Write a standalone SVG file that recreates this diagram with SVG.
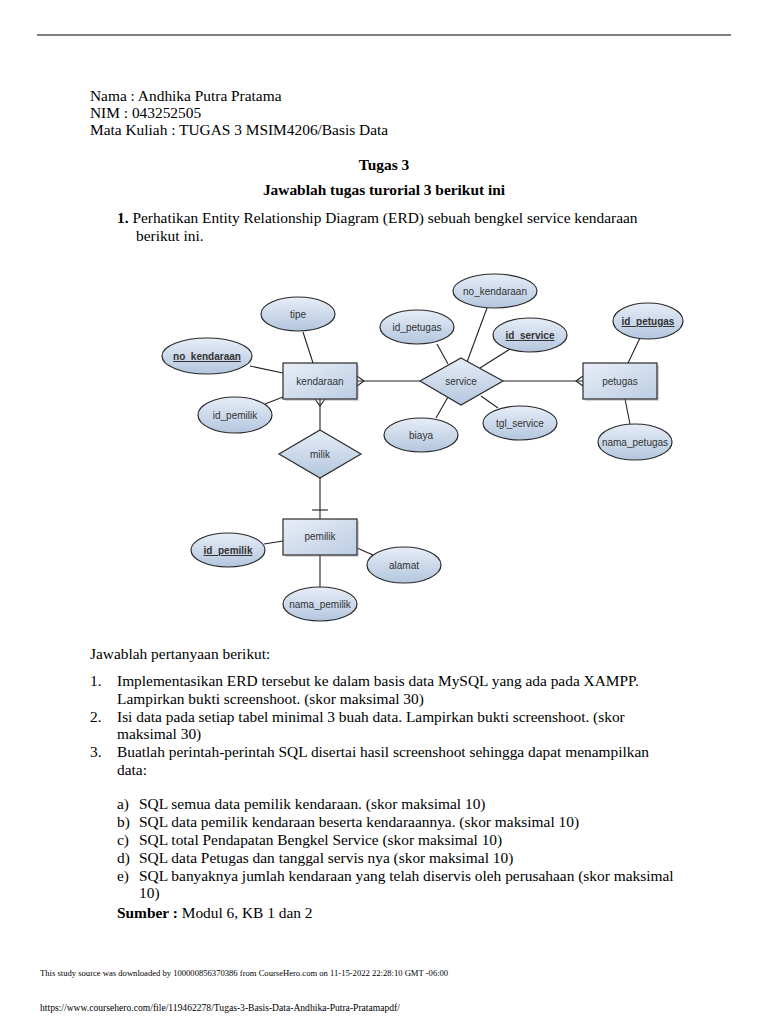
<svg xmlns="http://www.w3.org/2000/svg" width="768" height="1024" viewBox="0 0 768 1024">
<style>
.t{font-family:"Liberation Serif","Times New Roman",serif;font-size:15.4px;fill:#000}
.b{font-weight:bold}
.f{font-family:"Liberation Serif","Times New Roman",serif;font-size:8.6px;fill:#000}
.u{font-family:"Liberation Serif","Times New Roman",serif;font-size:9.6px;fill:#000}
.el{fill:url(#g);stroke:#2a2a2a;stroke-width:1.2}
.en{fill:url(#g2);stroke:#2a2a2a;stroke-width:1.2}
.dm{fill:url(#g);stroke:#2a2a2a;stroke-width:1.2}
.lb{font-family:"Liberation Sans",Arial,sans-serif;font-size:10px;fill:#333;text-anchor:middle}
.pk{font-weight:bold;text-decoration:underline}
.cn line,.cn polyline{stroke:#222;stroke-width:1.1;fill:none}
</style>
<defs>
<linearGradient id="g" x1="0" y1="0" x2="0" y2="1">
<stop offset="0" stop-color="#e6edf7"/><stop offset="1" stop-color="#b4c6de"/>
</linearGradient>
<linearGradient id="g2" x1="0" y1="0" x2="1" y2="1">
<stop offset="0" stop-color="#e8eef7"/><stop offset="1" stop-color="#bccde3"/>
</linearGradient>
</defs>
<rect width="768" height="1024" fill="#fff"/>
<line x1="37" y1="35" x2="731" y2="35" stroke="#000" stroke-width="1"/>

<text class="t" x="90" y="101">Nama : Andhika Putra Pratama</text>
<text class="t" x="90" y="118">NIM : 043252505</text>
<text class="t" x="90" y="135">Mata Kuliah : TUGAS 3 MSIM4206/Basis Data</text>
<text class="t b" x="384" y="170" text-anchor="middle">Tugas 3</text>
<text class="t b" x="384" y="195" text-anchor="middle">Jawablah tugas turorial 3 berikut ini</text>
<text class="t" x="117" y="223"><tspan class="b">1.</tspan> Perhatikan Entity Relationship Diagram (ERD) sebuah bengkel service kendaraan</text>
<text class="t" x="136" y="241">berikut ini.</text>

<g id="connectors" class="cn">
<line x1="303" y1="332" x2="313" y2="363"/>
<line x1="250" y1="366" x2="283" y2="373"/>
<line x1="265" y1="404" x2="283" y2="397"/>
<line x1="357" y1="381" x2="420" y2="381"/>
<polyline points="357,376 364,381 357,386"/>
<line x1="320" y1="399" x2="320" y2="430"/>
<polyline points="315,399 320,406 325,399"/>
<line x1="503" y1="381" x2="583" y2="381"/>
<polyline points="583,376 576,381 583,386"/>
<line x1="437" y1="344" x2="448" y2="364"/>
<line x1="487" y1="308" x2="467" y2="362"/>
<line x1="510" y1="349" x2="480" y2="368"/>
<line x1="436" y1="418" x2="448" y2="397"/>
<line x1="498" y1="408" x2="481" y2="396"/>
<line x1="640" y1="338" x2="628" y2="363"/>
<line x1="625" y1="399" x2="630" y2="424"/>
<line x1="320" y1="478" x2="320" y2="519"/>
<line x1="312" y1="510" x2="328" y2="510"/>
<line x1="264" y1="544" x2="283" y2="541"/>
<line x1="357" y1="548" x2="373" y2="555"/>
<line x1="320" y1="555" x2="320" y2="587"/>
</g>

<g id="tipe"><ellipse class="el" cx="298" cy="314" rx="37" ry="17"/><text class="lb" x="298" y="318">tipe</text></g>
<g id="no_kendaraan_k"><ellipse class="el" cx="207" cy="356" rx="45" ry="18"/><text class="lb pk" x="207" y="360">no_kendaraan</text></g>
<g id="id_pemilik_k"><ellipse class="el" cx="235" cy="415" rx="37" ry="18"/><text class="lb" x="235" y="419">id_pemilik</text></g>
<g id="kendaraan"><rect x="285" y="365" width="74" height="36" fill="#999" opacity="0.4"/><rect class="en" x="283" y="363" width="74" height="36"/><text class="lb" x="320" y="385">kendaraan</text></g>
<g id="milik"><polygon class="dm" points="320,430 361,454 320,478 279,454"/><text class="lb" x="320" y="458">milik</text></g>
<g id="service"><polygon class="dm" points="461,358 503,381 461,405 420,381"/><text class="lb" x="461" y="385">service</text></g>
<g id="id_petugas_s"><ellipse class="el" cx="417" cy="327" rx="37" ry="17"/><text class="lb" x="417" y="331">id_petugas</text></g>
<g id="no_kendaraan_s"><ellipse class="el" cx="495" cy="291" rx="42" ry="17"/><text class="lb" x="495" y="295">no_kendaraan</text></g>
<g id="id_service"><ellipse class="el" cx="530" cy="335" rx="37" ry="17"/><text class="lb pk" x="530" y="339">id_service</text></g>
<g id="biaya"><ellipse class="el" cx="421" cy="435" rx="37" ry="17"/><text class="lb" x="421" y="439">biaya</text></g>
<g id="tgl_service"><ellipse class="el" cx="520" cy="423" rx="37" ry="17"/><text class="lb" x="520" y="427">tgl_service</text></g>
<g id="id_petugas_p"><ellipse class="el" cx="648" cy="321" rx="35" ry="18"/><text class="lb pk" x="648" y="325">id_petugas</text></g>
<g id="petugas"><rect x="585" y="365" width="74" height="36" fill="#999" opacity="0.4"/><rect class="en" x="583" y="363" width="74" height="36"/><text class="lb" x="620" y="385">petugas</text></g>
<g id="nama_petugas"><ellipse class="el" cx="635" cy="442" rx="37" ry="18"/><text class="lb" x="635" y="446">nama_petugas</text></g>
<g id="pemilik"><rect x="285" y="521" width="74" height="36" fill="#999" opacity="0.4"/><rect class="en" x="283" y="519" width="74" height="36"/><text class="lb" x="320" y="540">pemilik</text></g>
<g id="id_pemilik_p"><ellipse class="el" cx="228" cy="550" rx="37" ry="17"/><text class="lb pk" x="228" y="554">id_pemilik</text></g>
<g id="alamat"><ellipse class="el" cx="404" cy="565" rx="37" ry="18"/><text class="lb" x="404" y="569">alamat</text></g>
<g id="nama_pemilik"><ellipse class="el" cx="320" cy="604" rx="37" ry="17"/><text class="lb" x="320" y="608">nama_pemilik</text></g>

<text class="t" x="90" y="659">Jawablah pertanyaan berikut:</text>
<text class="t" x="90" y="686">1.</text><text class="t" x="117" y="686">Implementasikan ERD tersebut ke dalam basis data MySQL yang ada pada XAMPP.</text>
<text class="t" x="117" y="704">Lampirkan bukti screenshoot. (skor maksimal 30)</text>
<text class="t" x="90" y="722">2.</text><text class="t" x="117" y="722">Isi data pada setiap tabel minimal 3 buah data. Lampirkan bukti screenshoot. (skor</text>
<text class="t" x="117" y="739">maksimal 30)</text>
<text class="t" x="90" y="757">3.</text><text class="t" x="117" y="757">Buatlah perintah-perintah SQL disertai hasil screenshoot sehingga dapat menampilkan</text>
<text class="t" x="117" y="775">data:</text>
<text class="t" x="117" y="809">a)</text><text class="t" x="139" y="809">SQL semua data pemilik kendaraan. (skor maksimal 10)</text>
<text class="t" x="117" y="827">b)</text><text class="t" x="139" y="827">SQL data pemilik kendaraan beserta kendaraannya. (skor maksimal 10)</text>
<text class="t" x="117" y="845">c)</text><text class="t" x="139" y="845">SQL total Pendapatan Bengkel Service (skor maksimal 10)</text>
<text class="t" x="117" y="863">d)</text><text class="t" x="139" y="863">SQL data Petugas dan tanggal servis nya (skor maksimal 10)</text>
<text class="t" x="117" y="881">e)</text><text class="t" x="139" y="881">SQL banyaknya jumlah kendaraan yang telah diservis oleh perusahaan (skor maksimal</text>
<text class="t" x="139" y="898">10)</text>
<text class="t" x="117" y="918"><tspan class="b">Sumber :</tspan> Modul 6, KB 1 dan 2</text>

<text class="f" x="40" y="976">This study source was downloaded by 100000856370386 from CourseHero.com on 11-15-2022 22:28:10 GMT -06:00</text>
<text class="u" x="40" y="1011">https://www.coursehero.com/file/119462278/Tugas-3-Basis-Data-Andhika-Putra-Pratamapdf/</text>
</svg>
